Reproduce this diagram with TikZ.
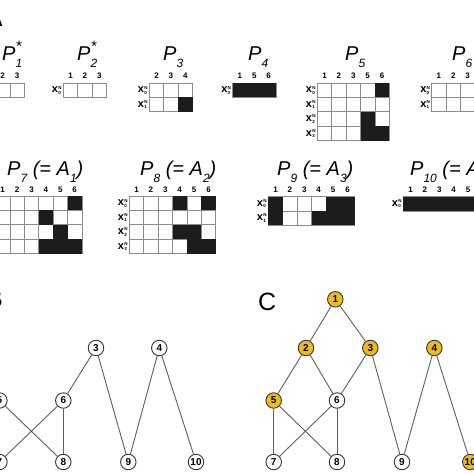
\documentclass[tikz,border=0pt]{standalone}
\usepackage{fontspec}
\setmainfont{Liberation Sans}
\definecolor{gold}{RGB}{236,186,36}
\definecolor{edgegray}{RGB}{95,95,95}
\definecolor{circgray}{RGB}{55,55,55}
\definecolor{gridgray}{RGB}{140,140,140}
\definecolor{cellblack}{RGB}{28,28,28}
\newcommand\mysub[1]{\raisebox{-7pt}{\fontsize{12}{12}\selectfont #1}}
\newcommand\mystar{\raisebox{9pt}{\fontsize{15}{15}\selectfont *}}
\newcommand\xlab[1]{\textbf{x}\kern0.3pt\rlap{\raisebox{3.8pt}{\fontsize{4.5}{5}\selectfont\bfseries N}}\raisebox{-1.6pt}{\fontsize{4.5}{5}\selectfont\bfseries #1}}
\newcommand\cs{14.4}
% tag, x0, y0, cols, rows, header list, header y
\newcommand\ptable[7]{%
  \foreach \i in {1,...,#4}{\foreach \j in {1,...,#5}{%
    \draw[gridline] ({#2+(\i-1)*\cs},{#3+(\j-1)*\cs}) rectangle ++(\cs,\cs);}}%
  \foreach \h [count=\k] in {#6}{%
    \node[hdrnum] (#1h\k) at ({#2+(\k-0.5)*\cs},#7) {\h};}%
}
% row labels: tag, x0, y0, rows
\newcommand\prows[4]{%
  \foreach \j in {1,...,#4}{%
    \pgfmathtruncatemacro\jj{\j-1}%
    \node[rowlab] (#1r\j) at ({#2-2.3},{#3+(\j-0.5)*\cs}) {\xlab{\jj}};}%
}
% x0, y0, col, row
\newcommand\blk[4]{\fill[cellblack] ({#1+(#3-1)*\cs},{#2+(#4-1)*\cs}) rectangle ++(\cs,\cs);}
\tikzset{
  gridline/.style={draw=gridgray, line width=0.8pt},
  hdrnum/.style={font=\fontsize{8}{8}\selectfont\bfseries, inner sep=0pt},
  rowlab/.style={anchor=east, font=\fontsize{11}{11}\selectfont, inner sep=0pt},
  ptitle/.style={anchor=base west, inner sep=0pt, font=\fontsize{20}{20}\selectfont\itshape},
  gnode/.style={circle, draw=circgray, line width=0.9pt, fill=white, minimum size=15.5pt, inner sep=0pt, font=\fontsize{10}{10}\selectfont\bfseries},
  ynode/.style={gnode, fill=gold},
  gedge/.style={draw=edgegray, line width=0.9pt},
  panel/.style={inner sep=0pt, font=\fontsize{25}{25}\selectfont}
}
\begin{document}
\begin{tikzpicture}[x=1pt, y=-1pt]
\useasboundingbox (0,0) rectangle (474,474);
\fill[white] (0,0) rectangle (474,474);
% panel labels
\node[panel, anchor=base east, font=\fontsize{25}{25}\selectfont\bfseries] (labA) at (3.5,26) {A};
\node[panel, anchor=base east, font=\fontsize{25}{25}\selectfont\bfseries] (labB) at (3,307) {B};
\node[panel, anchor=base west] (labC) at (258,310) {C};
% titles row 1
\node[ptitle] (t1) at (2,60) {P\rlap{\mysub{1}}\mystar};
\node[ptitle] (t2) at (77,60) {P\rlap{\mysub{2}}\mystar};
\node[ptitle] (t3) at (163,60) {P\mysub{3}};
\node[ptitle] (t4) at (248,60) {P\mysub{4}};
\node[ptitle] (t5) at (345,60) {P\mysub{5}};
\node[ptitle] (t6) at (452,60) {P\mysub{6}};
% titles row 2
\node[ptitle] (t7) at (7,175) {P\mysub{7} (= A\mysub{1})};
\node[ptitle] (t8) at (140,175) {P\mysub{8} (= A\mysub{2})};
\node[ptitle] (t9) at (277,175) {P\mysub{9} (= A\mysub{3})};
\node[ptitle] (t10) at (410,175) {P\mysub{10} (= A\mysub{4})};
% tables row 1
\ptable{pa}{-4.5}{83}{2}{1}{2,3}{76}
\ptable{pb}{63.3}{83}{3}{1}{1,2,3}{76}
\prows{pb}{63.3}{83}{1}
\ptable{pc}{149.3}{83}{3}{2}{2,3,4}{76}
\prows{pc}{149.3}{83}{2}
\blk{149.3}{83}{3}{2}
\ptable{pd}{232.7}{83}{3}{1}{1,5,6}{76}
\prows{pd}{232.7}{83}{1}
\blk{232.7}{83}{1}{1}\blk{232.7}{83}{2}{1}\blk{232.7}{83}{3}{1}
\ptable{pe}{317.3}{83}{5}{4}{1,2,3,5,6}{76}
\prows{pe}{317.3}{83}{4}
\blk{317.3}{83}{5}{1}\blk{317.3}{83}{4}{3}\blk{317.3}{83}{4}{4}\blk{317.3}{83}{5}{4}
\ptable{pf}{431.7}{83}{3}{2}{1,2,3}{76}
\prows{pf}{431.7}{83}{2}
% tables row 2
\ptable{pg}{-4.5}{196}{6}{4}{1,2,3,4,5,6}{189.5}
\blk{-4.5}{196}{6}{1}\blk{-4.5}{196}{4}{2}\blk{-4.5}{196}{5}{3}
\blk{-4.5}{196}{4}{4}\blk{-4.5}{196}{5}{4}\blk{-4.5}{196}{6}{4}
\ptable{ph}{129.3}{196}{6}{4}{1,2,3,4,5,6}{189.5}
\prows{ph}{129.3}{196}{4}
\blk{129.3}{196}{4}{1}\blk{129.3}{196}{6}{1}\blk{129.3}{196}{4}{3}
\blk{129.3}{196}{5}{3}\blk{129.3}{196}{5}{4}\blk{129.3}{196}{6}{4}
\ptable{pi}{268.3}{196.5}{6}{2}{1,2,3,4,5,6}{189.5}
\prows{pi}{268.3}{196.5}{2}
\blk{268.3}{196.5}{1}{1}\blk{268.3}{196.5}{5}{1}\blk{268.3}{196.5}{6}{1}
\blk{268.3}{196.5}{1}{2}\blk{268.3}{196.5}{4}{2}\blk{268.3}{196.5}{5}{2}\blk{268.3}{196.5}{6}{2}
\ptable{pj}{403.3}{196.5}{6}{1}{1,2,3,4,5,6}{189.5}
\prows{pj}{403.3}{196.5}{1}
\foreach \c in {1,...,6}{\blk{403.3}{196.5}{\c}{1}}
% panel B graph
\node[gnode] (b5) at (-0.6,400.5) {5};
\node[gnode] (b7) at (-0.6,462) {7};
\node[gnode] (b6) at (63.3,400.5) {6};
\node[gnode] (b8) at (63.3,462) {8};
\node[gnode] (b3) at (96,348) {3};
\node[gnode] (b4) at (159.3,348) {4};
\node[gnode] (b9) at (128.3,462) {9};
\node[gnode] (b10) at (196,462) {10};
\draw[gedge] (b5) -- (b8);
\draw[gedge] (b6) -- (b7);
\draw[gedge] (b6) -- (b8);
\draw[gedge] (b6) -- (b3);
\draw[gedge] (b3) -- (b9);
\draw[gedge] (b9) -- (b4);
\draw[gedge] (b4) -- (b10);
% panel C graph
\node[ynode] (c1) at (335.3,299.3) {1};
\node[ynode] (c2) at (306,348) {2};
\node[ynode] (c3) at (370.3,348) {3};
\node[ynode] (c4) at (434.3,348) {4};
\node[ynode] (c5) at (273.7,400.5) {5};
\node[gnode] (c6) at (337,400.5) {6};
\node[gnode] (c7) at (273.7,462) {7};
\node[gnode] (c8) at (337,462) {8};
\node[gnode] (c9) at (402,462) {9};
\node[ynode] (c10) at (470.3,462) {10};
\draw[gedge] (c1) -- (c2);
\draw[gedge] (c1) -- (c3);
\draw[gedge] (c2) -- (c5);
\draw[gedge] (c2) -- (c6);
\draw[gedge] (c3) -- (c6);
\draw[gedge] (c3) -- (c9);
\draw[gedge] (c4) -- (c9);
\draw[gedge] (c4) -- (c10);
\draw[gedge] (c5) -- (c7);
\draw[gedge] (c5) -- (c8);
\draw[gedge] (c6) -- (c7);
\draw[gedge] (c6) -- (c8);
\end{tikzpicture}
\end{document}
